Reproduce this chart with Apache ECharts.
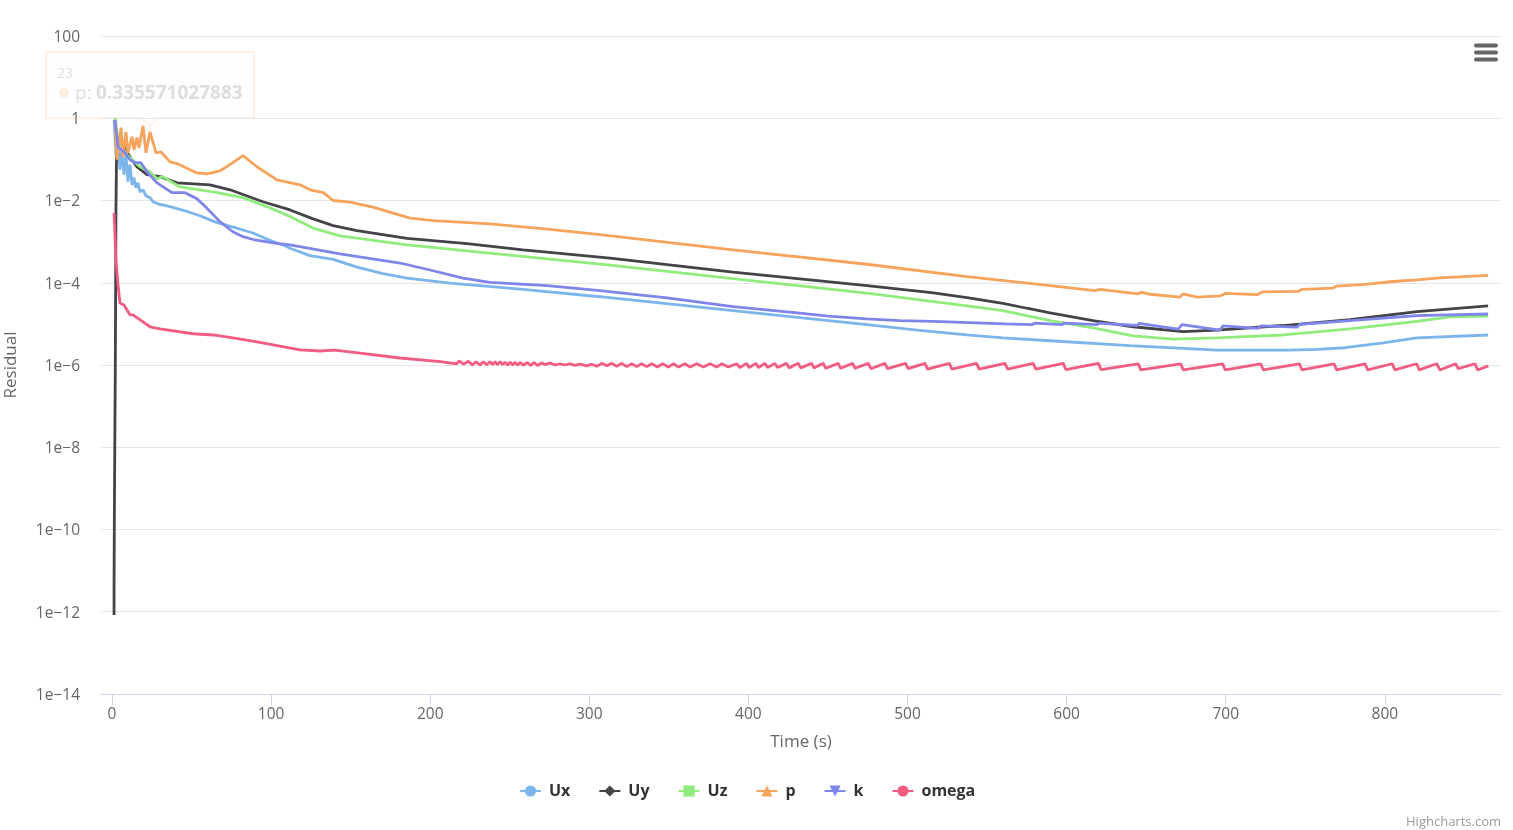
<!DOCTYPE html>
<html>
<head>
<meta charset="utf-8">
<title>Residuals</title>
<script src="https://cdn.jsdelivr.net/npm/echarts@6/dist/echarts.min.js"></script>
<style>
html, body { margin: 0; padding: 0; background: #fff; }
#chart { width: 1513px; height: 830px; }
</style>
</head>
<body>
<div id="chart"></div>
<script>
// [time (s), log10(residual)]
var uxPoints = [[1.3,-0.04],[2.5,-0.89],[3.8,-0.52],[5,-1.25],[6.3,-0.77],[7.5,-1.37],[8.8,-0.89],[10,-1.54],[11.3,-1.13],[12.6,-1.62],[13.8,-1.45],[15,-1.69],[16.3,-1.57],[17.6,-1.79],[19.5,-1.74],[21.4,-1.89],[23.9,-1.93],[25.8,-2.03],[28.9,-2.08],[36.5,-2.15],[45.9,-2.25],[55.3,-2.37],[64.7,-2.52],[77.3,-2.66],[88.6,-2.79],[101.2,-3.0],[108.7,-3.1],[111.9,-3.16],[124.4,-3.34],[139,-3.43],[154,-3.62],[170.3,-3.78],[185.4,-3.89],[212.4,-4.01],[258.3,-4.16],[306.7,-4.34],[390.3,-4.68],[474.5,-5.02],[506,-5.15],[537.4,-5.27],[560,-5.34],[589.6,-5.41],[639.8,-5.53],[694.5,-5.64],[740,-5.64],[757.4,-5.62],[775,-5.58],[798.9,-5.46],[820.2,-5.34],[864.9,-5.27]];
var uyPoints = [[1.3,-12.08],[1.3,-11.47],[1.5,-9.65],[1.8,-7.82],[2.1,-6.0],[2.5,-2.23],[3,-0.4],[3.8,-0.4],[11.3,-0.94],[15.7,-1.18],[22,-1.37],[30.2,-1.42],[40.9,-1.57],[61.6,-1.62],[74.2,-1.74],[94.9,-2.03],[111.9,-2.23],[126,-2.44],[139,-2.61],[154,-2.73],[185.4,-2.92],[223.1,-3.05],[258.3,-3.2],[313,-3.4],[390.3,-3.74],[474.5,-4.07],[515,-4.24],[537.4,-4.36],[560,-4.5],[575,-4.62],[589.6,-4.73],[616.6,-4.92],[641.7,-5.07],[673.2,-5.19],[694.5,-5.15],[736,-5.04],[778.1,-4.9],[820.2,-4.7],[864.9,-4.56]];
var uzPoints = [[2,0],[3.8,-0.52],[9.4,-0.89],[17.6,-1.18],[23.9,-1.3],[28.3,-1.47],[32,-1.42],[42.7,-1.67],[63.5,-1.79],[82.3,-1.93],[99.3,-2.18],[111.9,-2.39],[126.3,-2.67],[143.3,-2.86],[185.4,-3.08],[216.8,-3.2],[313,-3.57],[390.3,-3.9],[474.5,-4.25],[537.4,-4.56],[560,-4.68],[589.6,-4.92],[616.6,-5.1],[641.7,-5.29],[666.9,-5.37],[694.5,-5.34],[736,-5.27],[778.1,-5.12],[820.2,-4.94],[841,-4.83],[864.9,-4.81]];
var pPoints = [[1.9,-0.04],[3.1,-1.01],[5.7,-0.23],[6.9,-0.94],[8.8,-0.33],[10,-0.84],[12.6,-0.45],[13.8,-0.77],[15.7,-0.47],[17,-0.72],[19.5,-0.18],[21.4,-0.84],[23.9,-0.33],[27.7,-0.84],[30.8,-0.82],[36.5,-1.06],[41.5,-1.11],[53.4,-1.33],[59.7,-1.35],[67.9,-1.28],[76,-1.08],[82.3,-0.91],[91.1,-1.18],[103.7,-1.5],[118.2,-1.62],[124.4,-1.74],[132.9,-1.81],[139,-2],[149.6,-2.04],[164,-2.16],[187.3,-2.43],[202,-2.49],[237.6,-2.57],[275.3,-2.7],[306.7,-2.83],[390.3,-3.2],[474.5,-3.55],[537.4,-3.85],[589.6,-4.07],[617.8,-4.19],[621,-4.16],[644.9,-4.27],[646.8,-4.23],[652.4,-4.28],[671.3,-4.35],[673.2,-4.27],[682,-4.35],[696.4,-4.32],[699.6,-4.26],[719.7,-4.29],[723.4,-4.22],[745.4,-4.21],[748,-4.16],[767.4,-4.13],[769.9,-4.08],[787.6,-4.04],[805.2,-3.97],[820.2,-3.93],[834.7,-3.88],[864.9,-3.82]];
var kPoints = [[1.9,-0.04],[3.8,-0.7],[8.2,-0.84],[11.3,-1.01],[14.5,-1.08],[18.2,-1.08],[22,-1.3],[28.3,-1.57],[37.7,-1.81],[45.9,-1.81],[53.4,-1.96],[58,-2.12],[68,-2.52],[76,-2.76],[82.3,-2.88],[90,-2.96],[101.2,-3.03],[111.9,-3.08],[143.3,-3.3],[181,-3.52],[199.9,-3.69],[220.6,-3.89],[237.6,-3.99],[273.4,-4.07],[306.7,-4.19],[348.8,-4.37],[390.3,-4.58],[432.4,-4.74],[450,-4.81],[474.5,-4.88],[495,-4.92],[516,-4.94],[561.3,-5],[578.3,-5.02],[580,-4.98],[597.1,-5.02],[598.4,-4.98],[619.1,-5.02],[620.4,-4.98],[644.3,-5.04],[645.5,-4.99],[670,-5.13],[672.5,-5.02],[696.4,-5.15],[698.3,-5.05],[720.3,-5.11],[722.2,-5.05],[744.8,-5.08],[746.7,-5.01],[778.1,-4.92],[820.2,-4.8],[864.9,-4.76]];
var omegaPoints = [[1.3,-2.3],[2.5,-3.44],[3.8,-4.05],[5,-4.49],[7.5,-4.54],[11.3,-4.78],[13.2,-4.78],[19.5,-4.95],[23.9,-5.07],[30.2,-5.12],[50.9,-5.24],[63.5,-5.27],[76,-5.34],[91.1,-5.44],[118.2,-5.63],[130.7,-5.66],[140,-5.64],[155.9,-5.71],[181,-5.83],[206.2,-5.92],[216.8,-5.97],
  [218.1,-5.9],[220.9,-5.98],[224,-5.91],[226.5,-6],[228.8,-5.92],[231.3,-6],[233.4,-5.92],[235.5,-5.99],[237.6,-5.92],[239.3,-5.99],[240.8,-5.92],[242.2,-5.99],[243.9,-5.92],[245.6,-5.99],[247,-5.93],[248.7,-6],[250.2,-5.93],[251.9,-6],[253.3,-5.93],[255,-6],[256.5,-5.94],[258.6,-6],[261.1,-5.94],[263.2,-6.01],[265.3,-5.94],[267.4,-6.01],[270.1,-5.95],[272.2,-5.99],[275.3,-5.95],[278.5,-6],[281.6,-5.97],[284.8,-6],[287.9,-5.97],[291,-6.01],[294.2,-5.98],[298.4,-6.02],[301.5,-5.98],[304.7,-6.03],[307.8,-5.96],[311,-6.02],[314.1,-5.96],[317.2,-6.03],[320.4,-5.96],[323.5,-6.04],[326.7,-5.97],[329.8,-6.04],[332.9,-5.97],[336.1,-6.04],[339.2,-5.97],[342.8,-6.05],[346.1,-5.97],[349.7,-6.05],[352.9,-5.97],[356,-6.05],[360.2,-5.97],[363.3,-6.05],[367.5,-5.97],[371.7,-6.05],[375.9,-5.97],[380.1,-6.05],[383.2,-5.97],[387.4,-6.05],[392.6,-5.97],[394.7,-6.06],
  [398.9,-5.96],[400.4,-6.06],[404.8,-5.96],[406.3,-6.06],[410.4,-5.96],[412,-6.06],[416.7,-5.96],[418.2,-6.06],[424,-5.96],[425.5,-6.07],[431.4,-5.96],[432.9,-6.07],[439.7,-5.96],[441.2,-6.07],[447.1,-5.96],[448.6,-6.08],[456.5,-5.96],[458,-6.08],[465.5,-5.96],[467,-6.08],[475.4,-5.96],[477,-6.09],[485.8,-5.96],[487.4,-6.09],[498.8,-5.96],[500.4,-6.09],[511,-5.96],[512.6,-6.1],[526.3,-5.96],[527.9,-6.1],[543.4,-5.96],[545,-6.1],[561.3,-5.96],[562.9,-6.1],[579,-5.96],[580.6,-6.1],[597.9,-5.96],[599.5,-6.11],[620,-5.96],[621.6,-6.11],[645,-5.97],[646.6,-6.12],[671.7,-5.97],[673.3,-6.12],[698.1,-5.97],[699.7,-6.12],[722,-5.97],[723.6,-6.12],[746.3,-5.97],[747.9,-6.12],[768.1,-5.97],[769.7,-6.12],[787.6,-5.97],[789.2,-6.12],[804.7,-5.97],[806.3,-6.12],[820,-5.97],[821.6,-6.12],[832.6,-5.97],[834.6,-6.12],[844.5,-5.97],[846.1,-6.09],[856.7,-5.97],[858.3,-6.12],[865,-6.02]];

var seriesNames = ['Ux', 'Uy', 'Uz', 'p', 'k', 'omega'];
var seriesPoints = [uxPoints, uyPoints, uzPoints, pPoints, kPoints, omegaPoints];
var seriesColors = ['#7cb5ec', '#434348', '#90ed7d', '#f7a35c', '#8085e9', '#f15c80'];
var seriesSymbols = ['circle', 'diamond', 'rect', 'triangle', 'triangle', 'circle'];
var symbolRotates = [0, 0, 0, 0, 180, 0];
var xTicks = [0, 100, 200, 300, 400, 500, 600, 700, 800];

var fontName = '"Open Sans", sans-serif';
var chart = echarts.init(document.getElementById('chart'));

function yLabel(v) {
	if (v >= 100) return '{t|100}';
	if (v >= 1) return '{t|1}';
	return '{t|1e\u2212' + Math.round(-Math.log10(v)) + '}';
}

var series = seriesNames.map(function (name, i) {
	return {
		name: name,
		type: 'line',
		data: seriesPoints[i].map(function (p) { return [p[0], Math.pow(10, p[1])]; }),
		symbol: seriesSymbols[i],
		symbolRotate: symbolRotates[i],
		symbolSize: 9,
		showSymbol: false,
		smooth: false,
		animation: false,
		lineStyle: { color: seriesColors[i], width: 2.8 },
		itemStyle: { color: seriesColors[i] }
	};
});

var option = {
	backgroundColor: '#ffffff',
	textStyle: { fontFamily: fontName },
	animation: false,
	grid: { left: 101, right: 12, top: 36, bottom: 136, outerBoundsMode: 'none' },
	legend: {
		data: seriesNames,
		left: 514,
		top: 778,
		itemWidth: 21,
		itemHeight: 14,
		itemGap: 28,
		textStyle: { fontFamily: fontName, fontSize: 16, fontWeight: 'bold', color: '#333333', padding: [0, 0, 0, 3] }
	},
	xAxis: {
		type: 'value',
		min: -6.9,
		max: 873,
		name: 'Time (s)',
		nameLocation: 'middle',
		nameGap: 40,
		nameTextStyle: { color: '#666666', fontSize: 17, fontFamily: fontName },
		splitLine: { show: false },
		axisLine: { onZero: false, lineStyle: { color: '#ccd6eb', width: 1 } },
		axisTick: { length: 11, customValues: xTicks, lineStyle: { color: '#ccd6eb' } },
		axisLabel: { customValues: xTicks, color: '#666666', fontSize: 15.5, margin: 13, fontFamily: fontName }
	},
	yAxis: {
		type: 'log',
		logBase: 10,
		min: 1e-14,
		max: 100,
		interval: 2,
		name: 'Residual',
		nameLocation: 'middle',
		nameGap: 81,
		nameTextStyle: { color: '#666666', fontSize: 17, fontFamily: fontName },
		axisLine: { show: false },
		axisTick: { show: false },
		minorTick: { show: false },
		splitLine: { show: true, lineStyle: { color: '#e6e6e6', width: 1 } },
		axisLabel: {
			formatter: yLabel,
			margin: 21,
			rich: { t: { color: '#666666', fontSize: 15.5, fontFamily: fontName, padding: [3, 0, 0, 0] } }
		}
	},
	series: series,
	graphic: [
		{
			type: 'group', z: 100, silent: true,
			children: [
				{ type: 'polygon', shape: { points: [[46, 52], [254, 52], [254, 118], [158, 118], [150, 126], [142, 118], [46, 118]] },
					style: { fill: 'rgba(247,247,247,0.12)', stroke: 'rgba(247,163,92,0.15)', lineWidth: 2 } },
				{ type: 'text', x: 57, y: 67, style: { text: '23', fill: 'rgba(51,51,51,0.16)', fontSize: 14, fontFamily: fontName } },
				{ type: 'circle', shape: { cx: 64, cy: 93, r: 5 }, style: { fill: 'rgba(247,163,92,0.2)' } },
				{ type: 'text', x: 75, y: 84, style: { text: 'p: ', fill: 'rgba(51,51,51,0.16)', fontSize: 19, fontFamily: fontName } },
				{ type: 'text', x: 96, y: 84, style: { text: '0.335571027883', fill: 'rgba(51,51,51,0.16)', fontSize: 19, fontWeight: 'bold', fontFamily: fontName } }
			]
		},
		{ type: 'rect', shape: { x: 1474, y: 43.5, width: 24, height: 4, r: 2 }, style: { fill: '#666666' } },
		{ type: 'rect', shape: { x: 1474, y: 50.5, width: 24, height: 4, r: 2 }, style: { fill: '#666666' } },
		{ type: 'rect', shape: { x: 1474, y: 57.5, width: 24, height: 4, r: 2 }, style: { fill: '#666666' } },
		{ type: 'text', right: 12, top: 816, style: { text: 'Highcharts.com', fill: '#999999', fontSize: 13, fontFamily: fontName } }
	]
};

chart.setOption(option);
</script>
</body>
</html>
